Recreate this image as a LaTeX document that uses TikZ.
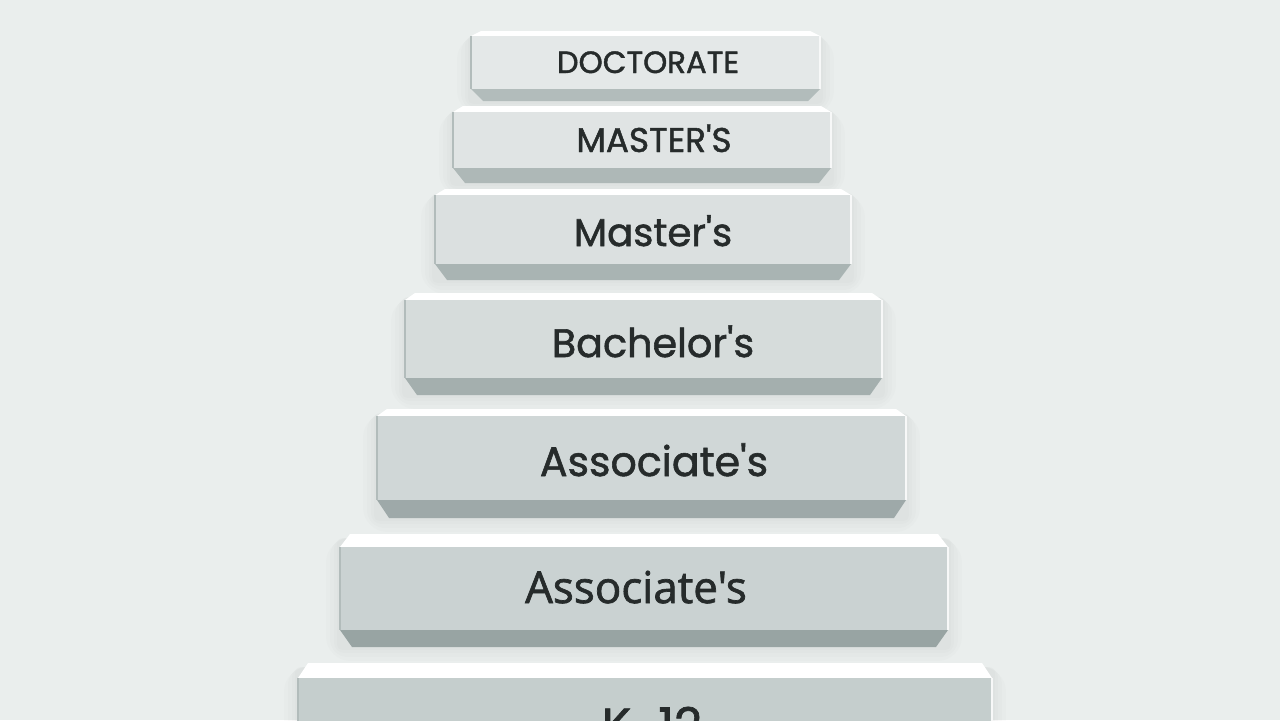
\documentclass[tikz,border=0pt]{standalone}
\usepackage{fontspec}
\newfontfamily\stepfont{Poppins}[FakeBold=1.4]
\newfontfamily\plainfont{Open Sans}[FakeBold=1.6]
\definecolor{wall}{HTML}{EAEEED}
\definecolor{faceLight}{HTML}{E4E8E8}
\definecolor{faceDark}{HTML}{C2CBCA}
\definecolor{bevelLight}{HTML}{B2BCBB}
\definecolor{bevelDark}{HTML}{909C9B}
\definecolor{ink}{HTML}{262B2B}
\tikzset{
  lbl/.style={text=ink, anchor=base, inner sep=0pt},
}

\begin{document}
\begin{tikzpicture}[x=0.02cm,y=-0.02cm]
\clip (0,0) rectangle (1280,720);
\fill[wall] (0,0) rectangle (1280,720);

% steps: left/right/top/face top/face bottom/bevel bottom/shade
\foreach \l/\r/\t/\f/\b/\e/\c in {471/820/31/36/89/101/100,
    453/831/106/112/168/183/88, 435/851/189/195/264/280/74,
    405/882/293/300/378/395/58, 377/906/409/416/500/518/42,
    340/948/534/547/630/647/25, 298/992/663/678/760/780/10}{
  % soft shadow
  \foreach \s in {14,10,6,3}
    \fill[black, opacity=.012, rounded corners=\s] (\l-\s,\t+4) rectangle (\r+\s,\e+\s);
  % top highlight
  \fill[white] (\l+10,\t) -- (\r-10,\t) -- (\r,\f) -- (\l,\f) -- cycle;
  % front face
  \fill[faceLight!\c!faceDark] (\l,\f) rectangle (\r,\b);
  \draw[bevelLight, line width=0.6pt] (\l,\f) -- (\l,\b);
  \draw[white!70!faceLight, line width=0.6pt] (\r,\f) -- (\r,\b);
  % lower bevel
  \fill[bevelLight!\c!bevelDark] (\l,\b) -- (\r,\b) -- (\r-12,\e) -- (\l+12,\e) -- cycle;
}

% labels
\node[lbl, font=\stepfont\fontsize{17.5}{20}\selectfont] (doctorate) at (648,73) {DOCTORATE};
\node[lbl, font=\stepfont\fontsize{19.5}{22}\selectfont] (mastersCaps) at (654,152) {MASTER'S};
\node[lbl, font=\stepfont\fontsize{22}{26}\selectfont] (masters) at (653,246) {Master's};
\node[lbl, font=\stepfont\fontsize{22.6}{27}\selectfont] (bachelors) at (653,357) {Bachelor's};
\node[lbl, font=\stepfont\fontsize{23.4}{28}\selectfont] (associatesA) at (654,476) {Associate's};
\node[lbl, font=\plainfont\fontsize{25}{30}\selectfont] (associatesB) at (636,603) {Associate's};
\node[lbl, font=\stepfont\fontsize{28}{32}\selectfont] (kTwelve) at (652,743) {K-12};
\end{tikzpicture}
\end{document}
